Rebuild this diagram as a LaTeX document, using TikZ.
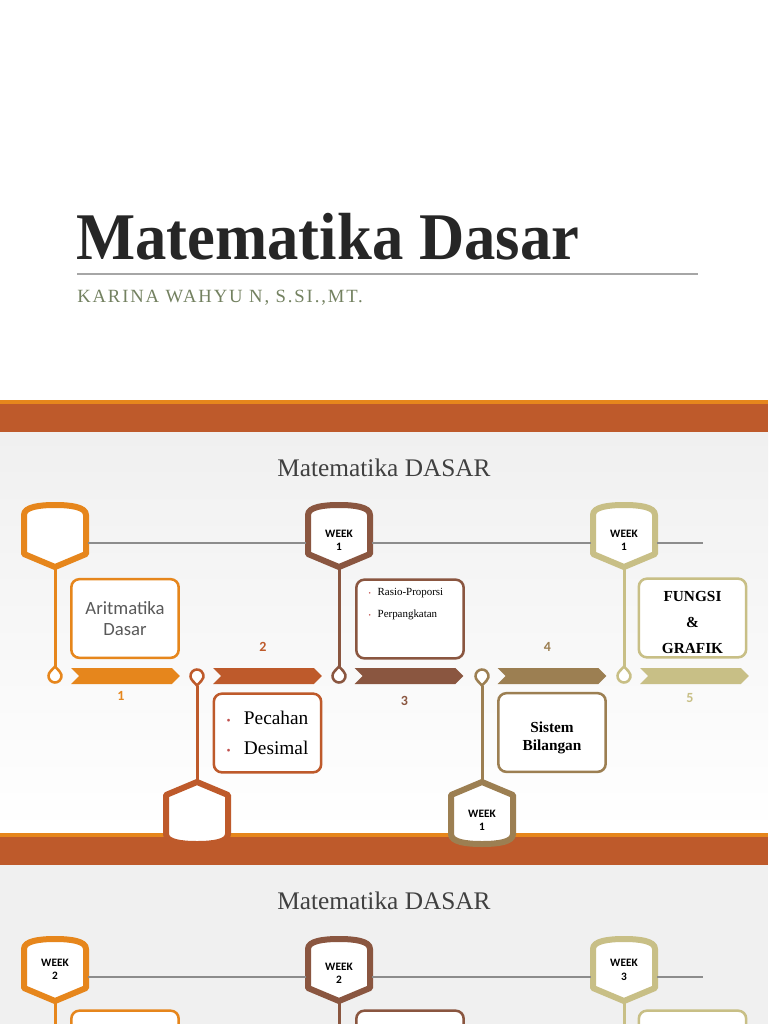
\documentclass[tikz,border=0pt]{standalone}
\usepackage{fontspec}
\setmainfont{Liberation Serif}
\newfontfamily\calfont{Carlito}
\newfontfamily\subfont[LetterSpace=10]{Liberation Serif}
\usepackage{tikz}
\usetikzlibrary{positioning, shapes.symbols}

\definecolor{orng}{HTML}{E6861C}
\definecolor{rust}{HTML}{BE5A2B}
\definecolor{brwn}{HTML}{8A5640}
\definecolor{tanc}{HTML}{9C7F52}
\definecolor{khak}{HTML}{C8BF86}
\definecolor{slidebg}{HTML}{F0F0F0}
\definecolor{inkgray}{HTML}{404040}
\definecolor{titleink}{HTML}{262626}
\definecolor{rulegray}{HTML}{8C8C8C}
\definecolor{subgreen}{HTML}{738160}
\definecolor{txtgray}{HTML}{595959}
\definecolor{bulred}{HTML}{C0504D}

\newcommand{\dotmark}{\textcolor{bulred}{\scalebox{0.6}{\textbullet}}}

\tikzset{
  weektop/.pic={
    \path[pic actions, fill=white, line width=4.5pt, line join=round]
      (-31,10) .. controls (-31,2) and (-16,0) .. (0,0)
      .. controls (16,0) and (31,2) .. (31,10) -- (31,49) -- (0,62) -- (-31,49) -- cycle;
    \coordinate (-tip) at (0,62);
    \coordinate (-east) at (33,38);
    \coordinate (-west) at (-33,38);
  },
  weekbot/.pic={
    \path[pic actions, fill=white, line width=4.5pt, line join=round]
      (0,0) -- (31,13) -- (31,52) .. controls (31,60) and (16,62) .. (0,62)
      .. controls (-16,62) and (-31,60) .. (-31,52) -- (-31,13) -- cycle;
    \coordinate (-tip) at (0,0);
  },
  dropup/.pic={
    \path[pic actions, fill=white, line width=1.9pt]
      (0,-9.5) -- (-133.2:6.5) arc[start angle=-133.2, end angle=-406.8, radius=6.5] -- cycle;
    \coordinate (-tip) at (0,-9.5);
  },
  dropdown/.pic={
    \path[pic actions, fill=white, line width=1.9pt]
      (0,9.5) -- (133.2:6.5) arc[start angle=133.2, end angle=406.8, radius=6.5] -- cycle;
    \coordinate (-tip) at (0,9.5);
  }
}

\begin{document}
\begin{tikzpicture}[x=0.75pt, y=-0.75pt,
  box/.style={draw, fill=white, rounded corners=6pt, line width=1.9pt, minimum width=80.5pt, minimum height=59pt, inner sep=2pt, align=center},
  chev/.style={signal, signal from=west, signal to=east, minimum width=81.5pt, minimum height=12pt, inner sep=0pt},
  stem/.style={line width=2.25pt},
  wk/.style={font=\calfont\bfseries\fontsize{8.5}{10}\selectfont, align=center, inner sep=0pt},
  num/.style={font=\calfont\bfseries\fontsize{10.5}{12}\selectfont, inner sep=0pt, xshift=-3.5pt},
  stitle/.style={font=\fontsize{19}{22}\selectfont, text=inkgray, inner sep=0pt},
  tline/.style={draw=rulegray, line width=0.8pt}]
\useasboundingbox (0,0) rectangle (768,1024);
\begin{scope}
\clip (0,0) rectangle (768,1024);

% title slide
\fill[white] (0,0) rectangle (768,400);
\node[anchor=base west, inner sep=0pt, text=titleink, font=\fontsize{50}{54}\selectfont\bfseries] (ttl) at (76,259) {\scalebox{0.94}[1]{Matematika Dasar}};
\draw[draw=gray!70, line width=0.8pt] (77,274) -- (698,274);
\node[anchor=base west, inner sep=0pt, text=subgreen, font=\subfont\fontsize{14}{16}\selectfont] (sub) at (77,302) {KARINA WAHYU N, S.SI.,MT.};

% slide 1
\fill[orng] (0,400) rectangle (768,404);
\fill[rust] (0,404) rectangle (768,432);
\shade[top color=slidebg, bottom color=white] (0,432) rectangle (768,833);
\node[stitle] (s1) at (384,468) {Matematika DASAR};

\pic[draw=orng] (w1) at (55,505) {weektop};
\pic[draw=brwn] (w2) at (339,505) {weektop};
\pic[draw=khak] (w3) at (624,505) {weektop};
\coordinate (lend1) at (703,543);
\draw[tline] (w1-east) -- (w2-west);
\draw[tline] (w2-east) -- (w3-west);
\draw[tline] (w3-east) -- (lend1);
\node[wk] (w2l) at (339,540) {WEEK\\1};
\node[wk] (w3l) at (624,540) {WEEK\\1};

\pic[draw=orng] (d1) at (55,676) {dropup};
\pic[draw=rust] (d2) at (197,676) {dropdown};
\pic[draw=brwn] (d3) at (339,676) {dropup};
\pic[draw=tanc] (d4) at (482,676) {dropdown};
\pic[draw=khak] (d5) at (624,676) {dropup};
\draw[stem, orng] (w1-tip) -- (d1-tip);
\draw[stem, brwn] (w2-tip) -- (d3-tip);
\draw[stem, khak] (w3-tip) -- (d5-tip);

\node[chev, fill=orng] (a1) at (125.5,676) {};
\node[chev, fill=rust] (a2) at (267.5,676) {};
\node[chev, fill=brwn] (a3) at (409,676) {};
\node[chev, fill=tanc] (a4) at (552,676) {};
\node[chev, fill=khak] (a5) at (694.5,676) {};
\node[num, text=orng, below=5.5pt of a1] (n1) {1};
\node[num, text=rust, above=12pt of a2] (n2) {2};
\node[num, text=brwn, below=8.5pt of a3] (n3) {3};
\node[num, text=tanc, above=12pt of a4] (n4) {4};
\node[num, text=khak, below=7pt of a5] (n5) {5};

\node[box, draw=orng, text=txtgray, font=\calfont\fontsize{14}{16}\selectfont] (b1) at (125,618.5) {Aritmatika\\Dasar};
\node[box, draw=rust, align=left, font=\fontsize{14.5}{17}\selectfont] (b2) at (267.5,733) {\dotmark\hspace{10pt}Pecahan\\[5.5pt]\dotmark\hspace{10pt}Desimal};
\node[box, draw=brwn] (b3) at (410,619) {};
\node[anchor=north, align=left, inner sep=0pt, font=\fontsize{8.2}{10}\selectfont] (b3t) at (406,588) {\dotmark\hspace{5pt}Rasio-Proporsi\\[6.5pt]\dotmark\hspace{5pt}Perpangkatan};
\node[box, draw=tanc] (b4) at (552,732.5) {};
\node[align=center, inner sep=0pt, font=\bfseries\fontsize{11.5}{13.5}\selectfont] (b4t) at (552,738) {Sistem\\Bilangan};
\node[box, draw=khak] (b5) at (692.5,618) {};
\node[align=center, inner sep=0pt, font=\bfseries\fontsize{11.5}{19.5}\selectfont] (b5t) at (692.5,622) {FUNGSI\\\&\\GRAFIK};

% band between slides
\fill[orng] (0,833) rectangle (768,837);
\fill[rust] (0,837) rectangle (768,865);

\pic[draw=rust] (w4) at (197,782) {weekbot};
\pic[draw=tanc] (w5) at (482,782) {weekbot};
\draw[stem, rust] (d2-tip) -- (w4-tip);
\draw[stem, tanc] (d4-tip) -- (w5-tip);
\node[wk] (w5l) at (482,820) {WEEK\\1};

% slide 2
\fill[slidebg] (0,865) rectangle (768,1024);
\node[stitle] (s2) at (384,901) {Matematika DASAR};
\coordinate (e6) at (55,1034);
\coordinate (e7) at (339,1034);
\coordinate (e8) at (624,1034);
\pic[draw=orng] (w6) at (55,939) {weektop};
\pic[draw=brwn] (w7) at (339,939) {weektop};
\pic[draw=khak] (w8) at (624,939) {weektop};
\coordinate (lend2) at (703,977);
\draw[tline] (w6-east) -- (w7-west);
\draw[tline] (w7-east) -- (w8-west);
\draw[tline] (w8-east) -- (lend2);
\draw[stem, orng] (w6-tip) -- (e6);
\draw[stem, brwn] (w7-tip) -- (e7);
\draw[stem, khak] (w8-tip) -- (e8);
\node[wk] (w6l) at (55,969) {WEEK\\2};
\node[wk] (w7l) at (339,973) {WEEK\\2};
\node[wk] (w8l) at (624,970) {WEEK\\3};
\node[box, draw=orng] (b6) at (125,1050) {};
\node[box, draw=brwn] (b7) at (410,1050) {};
\node[box, draw=khak] (b8) at (692.5,1050) {};
\end{scope}
\end{tikzpicture}
\end{document}
